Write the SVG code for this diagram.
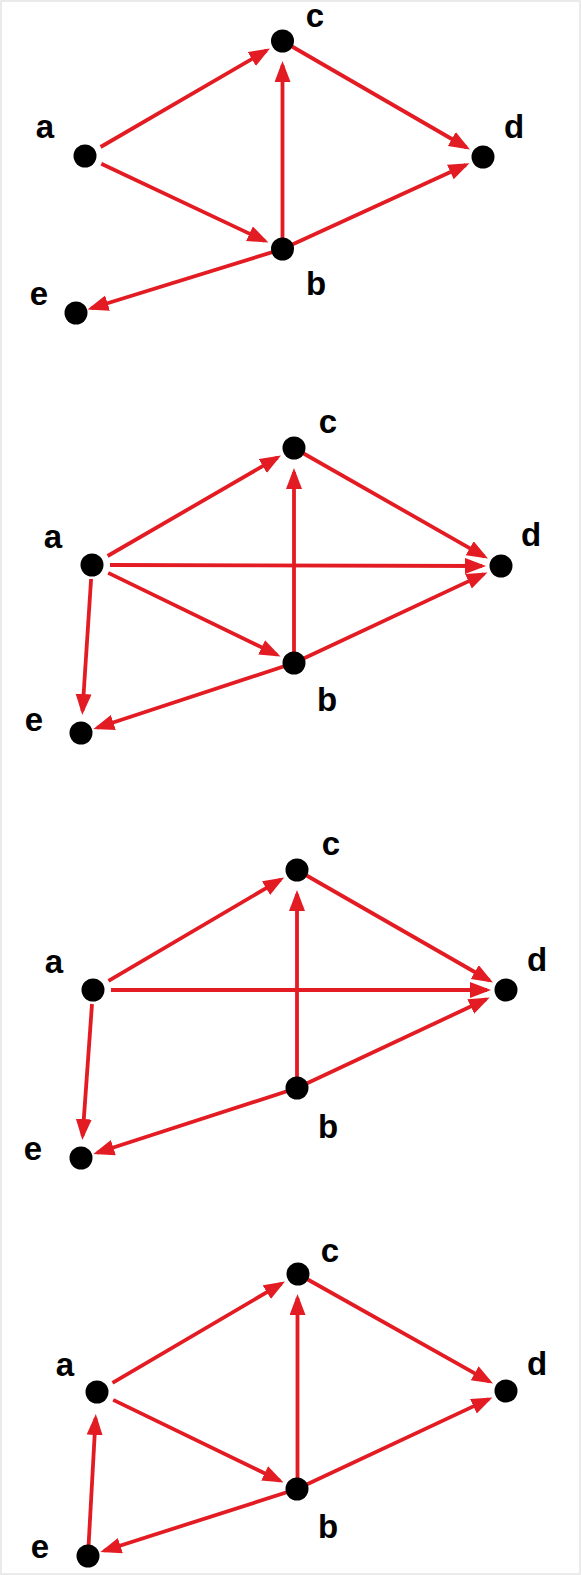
<svg xmlns="http://www.w3.org/2000/svg" width="581" height="1575" viewBox="0 0 581 1575">
<style>
.e{stroke:#e31b23;stroke-width:3.8;fill:none;marker-end:url(#ah)}
.n{fill:#000}
.l{font-family:"Liberation Sans",Arial,sans-serif;font-weight:bold;font-size:33px;fill:#000;text-anchor:middle}
</style>
<defs>
<marker id="ah" markerUnits="userSpaceOnUse" markerWidth="24" markerHeight="18" refX="17" refY="8" orient="auto">
<path d="M0,0 L21,8 L0,16 z" fill="#e31b23"/>
</marker>
</defs>
<rect x="0" y="0" width="581" height="1575" fill="#fff"/>
<rect x="1" y="1" width="579" height="1573" fill="none" stroke="#e4e4e4" stroke-width="1.5"/>
<g id="connectors">
<!-- panel 1 -->
<line class="e" x1="100.6" y1="147" x2="266.5" y2="50.5"/>
<line class="e" x1="101.3" y1="163.7" x2="264.8" y2="240.9"/>
<line class="e" x1="282.5" y1="249" x2="282.5" y2="65"/>
<line class="e" x1="282.5" y1="41" x2="466.5" y2="147.5"/>
<line class="e" x1="282.5" y1="249" x2="465.8" y2="164.9"/>
<line class="e" x1="282.5" y1="249" x2="91.3" y2="308.2"/>
<!-- panel 2 -->
<line class="e" x1="107.6" y1="556" x2="277.5" y2="457.5"/>
<line class="e" x1="110" y1="565" x2="482" y2="566"/>
<line class="e" x1="108.2" y1="572.9" x2="276.9" y2="654.8"/>
<line class="e" x1="91.1" y1="579" x2="82.5" y2="711"/>
<line class="e" x1="294" y1="663" x2="294" y2="472"/>
<line class="e" x1="294" y1="448" x2="484.5" y2="556.6"/>
<line class="e" x1="294" y1="663" x2="483.8" y2="574.1"/>
<line class="e" x1="294" y1="663" x2="97.2" y2="727.8"/>
<!-- panel 3 -->
<line class="e" x1="108.5" y1="980.9" x2="280.7" y2="879.6"/>
<line class="e" x1="111" y1="990" x2="487" y2="990"/>
<line class="e" x1="92" y1="1004" x2="82.6" y2="1136"/>
<line class="e" x1="297" y1="1088" x2="297" y2="894"/>
<line class="e" x1="297" y1="870" x2="489.5" y2="980.5"/>
<line class="e" x1="297" y1="1088" x2="486.1" y2="999.3"/>
<line class="e" x1="297" y1="1088" x2="97.2" y2="1152.8"/>
<!-- panel 4 -->
<line class="e" x1="112.5" y1="1382.9" x2="281.5" y2="1283.6"/>
<line class="e" x1="113.2" y1="1399.9" x2="279.9" y2="1480.8"/>
<line class="e" x1="297.5" y1="1489" x2="297.5" y2="1298"/>
<line class="e" x1="298" y1="1274" x2="489.5" y2="1381.6"/>
<line class="e" x1="297" y1="1489" x2="488.8" y2="1399.1"/>
<line class="e" x1="297" y1="1489" x2="104.2" y2="1550.8"/>
<line class="e" x1="88" y1="1556" x2="95.6" y2="1418"/>
</g>
<g id="p1-a"><circle class="n" cx="85" cy="156" r="11.5"/><text class="l" x="45" y="138">a</text></g>
<g id="p1-b"><circle class="n" cx="282.5" cy="249" r="11.5"/><text class="l" x="316" y="295">b</text></g>
<g id="p1-c"><circle class="n" cx="282.5" cy="41" r="11.5"/><text class="l" x="315" y="27">c</text></g>
<g id="p1-d"><circle class="n" cx="483" cy="157" r="11.5"/><text class="l" x="514" y="138">d</text></g>
<g id="p1-e"><circle class="n" cx="76" cy="313" r="11.5"/><text class="l" x="39" y="305">e</text></g>
<g id="p2-a"><circle class="n" cx="92" cy="565" r="11.5"/><text class="l" x="53" y="548">a</text></g>
<g id="p2-b"><circle class="n" cx="294" cy="663" r="11.5"/><text class="l" x="327" y="711">b</text></g>
<g id="p2-c"><circle class="n" cx="294" cy="448" r="11.5"/><text class="l" x="328" y="433">c</text></g>
<g id="p2-d"><circle class="n" cx="501" cy="566" r="11.5"/><text class="l" x="531" y="546">d</text></g>
<g id="p2-e"><circle class="n" cx="81" cy="733" r="11.5"/><text class="l" x="34" y="731">e</text></g>
<g id="p3-a"><circle class="n" cx="93" cy="990" r="11.5"/><text class="l" x="54" y="973">a</text></g>
<g id="p3-b"><circle class="n" cx="297" cy="1088" r="11.5"/><text class="l" x="328" y="1138">b</text></g>
<g id="p3-c"><circle class="n" cx="297" cy="870" r="11.5"/><text class="l" x="331" y="855">c</text></g>
<g id="p3-d"><circle class="n" cx="506" cy="990" r="11.5"/><text class="l" x="537" y="971">d</text></g>
<g id="p3-e"><circle class="n" cx="81" cy="1158" r="11.5"/><text class="l" x="33" y="1160">e</text></g>
<g id="p4-a"><circle class="n" cx="97" cy="1392" r="11.5"/><text class="l" x="65" y="1376">a</text></g>
<g id="p4-b"><circle class="n" cx="297" cy="1489" r="11.5"/><text class="l" x="328" y="1538">b</text></g>
<g id="p4-c"><circle class="n" cx="298" cy="1274" r="11.5"/><text class="l" x="330" y="1262">c</text></g>
<g id="p4-d"><circle class="n" cx="506" cy="1391" r="11.5"/><text class="l" x="537" y="1375">d</text></g>
<g id="p4-e"><circle class="n" cx="88" cy="1556" r="11.5"/><text class="l" x="40" y="1558">e</text></g>
</svg>
